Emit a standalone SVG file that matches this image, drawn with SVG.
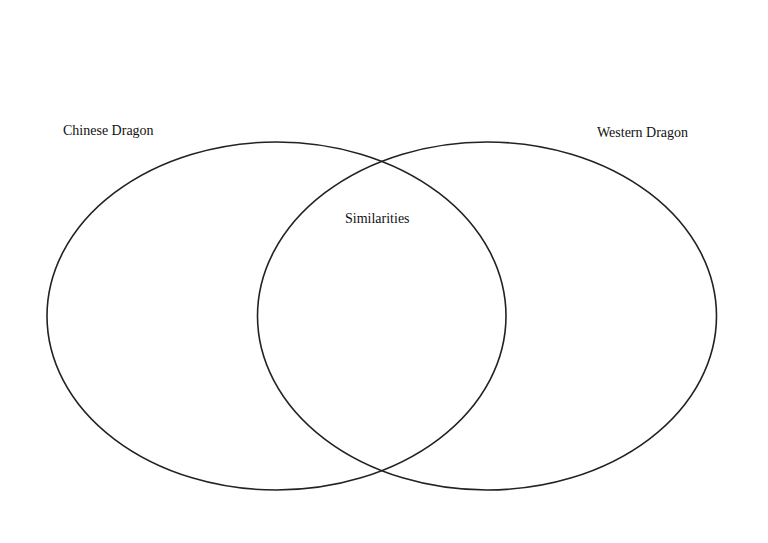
<svg xmlns="http://www.w3.org/2000/svg" width="768" height="543" viewBox="0 0 768 543">
<style>.c{fill:none;stroke:#222;stroke-width:1.6}.t{font-family:"Liberation Serif",serif;font-size:14px;fill:#111}</style>
<rect width="768" height="543" fill="#fff"/>
<g id="left"><ellipse class="c" cx="276.5" cy="316" rx="229.5" ry="174"/><text class="t" x="63" y="135">Chinese Dragon</text></g>
<g id="right"><ellipse class="c" cx="487" cy="316" rx="229.5" ry="174"/><text class="t" x="597" y="137">Western Dragon</text></g>
<g id="mid"><text class="t" x="345" y="223">Similarities</text></g>
<g id="connectors"/>
</svg>
